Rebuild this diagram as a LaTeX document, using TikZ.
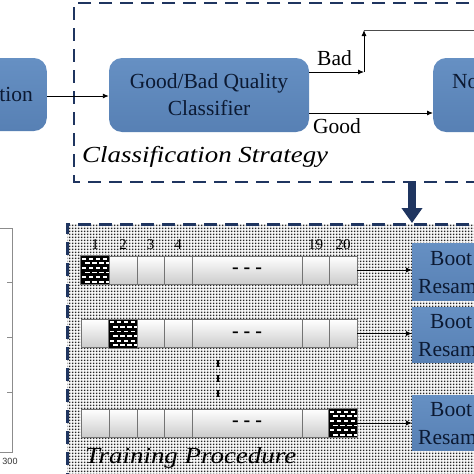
\documentclass[tikz,border=0pt]{standalone}
\usepackage{fontspec}
\setmainfont{Liberation Serif}
\newfontfamily\widefont[FakeStretch=1.17]{Liberation Serif}
\newfontfamily\plotfont{Liberation Sans}
\usetikzlibrary{patterns,arrows.meta,calc}
\definecolor{navy}{HTML}{1F3560}
\definecolor{boxtop}{HTML}{6690C3}
\definecolor{boxbot}{HTML}{5780B4}
\definecolor{ink}{HTML}{0C1A33}
\pgfdeclarepatternformonly{densedots}{\pgfqpoint{-1pt}{-1pt}}{\pgfqpoint{2pt}{2pt}}{\pgfqpoint{3pt}{3pt}}{\pgfpathrectangle{\pgfqpoint{0pt}{0pt}}{\pgfqpoint{2pt}{2pt}}\pgfusepath{fill}}
\tikzset{
 bluebox/.style={rectangle, rounded corners=13, top color=boxtop, bottom color=boxbot, draw=none, text=ink, font=\fontsize{21.5}{27}\selectfont, inner sep=0},
 bootbox/.style={rectangle, top color=boxtop, bottom color=boxbot, draw=none, inner sep=0},
 boxtext/.style={text=ink, font=\fontsize{21.5}{27}\selectfont, inner sep=0},
 lbl/.style={text=black, font=\fontsize{21.5}{27}\selectfont, inner sep=0},
 titletext/.style={text=black, font=\widefont\itshape\fontsize{23}{27}\selectfont, inner sep=0},
 num/.style={text=black, font=\fontsize{15}{17}\selectfont, inner sep=0},
 dashtext/.style={text=black, font=\bfseries\fontsize{20}{24}\selectfont, inner sep=0},
 plotlabel/.style={text=black!80, font=\plotfont\fontsize{9}{10}\selectfont, inner sep=0},
 cellbox/.style={rectangle, draw=black!55, line width=0.8, top color=white, bottom color=black!20, inner sep=0, minimum height=28},
 conn/.style={line width=0.9, draw=black, -{Latex[length=6,width=5]}},
 dashbox/.style={draw=navy, line width=2.8, dash pattern=on 13 off 8},
 axisline/.style={draw=black!45, line width=0.8},
}
\newcommand{\dashfill}[1]{%
 \fill[black] (#1.north west) rectangle (#1.south east);
 \begin{scope}
 \clip (#1.north west) rectangle (#1.south east);
 \foreach \r in {0,...,5}{
   \foreach \c in {0,...,4}{
     \fill[white] ($(#1.north west)+({\c*7+mod(\r,2)*3.5+1},{\r*4.6+2.2})$) rectangle ++(4.5,1.8);
 }}
 \end{scope}
 \draw[black!55, line width=0.8] (#1.north west) rectangle (#1.south east);}
\begin{document}
\begin{tikzpicture}[x=1pt,y=-1pt]
\useasboundingbox (0,0) rectangle (474,474);
\clip (0,0) rectangle (474,474);
\fill[white] (0,0) rectangle (474,474);

% left plot fragment
\draw[axisline] (0,228) -- (12,228) -- (12,452) -- (0,452);
\foreach \t in {282,337,392} \draw[axisline] (7,\t) -- (12,\t);
\node[plotlabel] (ticklabel) at (10,461) {300};

% training procedure box
\fill[pattern=densedots, pattern color=black!85] (67,224) rectangle (490,490);
\draw[dashbox, line width=3] (490,224) -- (67,224) -- (67,490);

% classification strategy box
\draw[dashbox] (490,3) -- (74,3) -- (74,182) -- (490,182);

% top row nodes
\node[bluebox, anchor=east, minimum width=80, minimum height=73, text width=52, align=right, inner xsep=14] (prev) at (47,94.5) {tion};
\node[bluebox, minimum width=200, minimum height=74, align=center] (cls) at (209,95) {Good/Bad Quality\\Classifier};
\node[bluebox, anchor=west, minimum width=130, minimum height=74] (nextbox) at (433,95) {};
\node[boxtext, anchor=base west] (nolabel) at (452,88) {No};

\draw[conn] (prev.east |- 0,96) -- (cls.west |- 0,96);
\coordinate (badturn) at (364,72);
\coordinate (badtop) at (364,30);
\coordinate (badend) at (480,30);
\draw[conn] (cls.east |- badturn) -- (badturn);
\draw[conn] (badturn) -- (badtop);
\draw[line width=0.9, black!70] (badtop) -- (badend);
\draw[conn] (cls.east |- 0,113) -- (nextbox.west |- 0,113);
\node[lbl] (badlbl) at (334.5,58) {Bad};
\node[lbl] (goodlbl) at (337,126) {Good};

\node[titletext, anchor=base west] (cstitle) at (82,162) {Classification Strategy};

% down arrow
\coordinate (dtop) at (412,183);
\coordinate (dbot) at (412,223);
\draw[navy, line width=8, -{Triangle[length=15,width=20]}] (dtop) -- (dbot);

% cell rows
\foreach \row/\yy in {1/270, 2/333.5, 3/423}{
  \foreach \i/\xa/\xb in {1/81/109, 2/109/137, 3/137/164, 4/164/192, 5/192/302, 6/302/329, 7/329/357}{
    \node[cellbox, minimum width={\xb-\xa}] (r\row-\i) at ({(\xa+\xb)/2},\yy) {};
  }
  \node[dashtext] (dots\row) at ([yshift=-1]r\row-5) {- - -};
}
\dashfill{r1-1}
\dashfill{r2-2}
\dashfill{r3-7}

% column numbers
\foreach \i/\lab in {1/1, 2/2, 3/3, 4/4, 6/19, 7/20}{
  \node[num, anchor=base] (n\i) at (r1-\i.center |- 0,249) {\lab};
}

% vertical dashed ellipsis
\coordinate (vtop) at (218,360);
\coordinate (vbot) at (218,398);
\draw[black, line width=1.3, dash pattern=on 7 off 8] (vtop) -- (vbot);

% bootstrap boxes
\foreach \k/\cy/\hh in {1/271.5/57, 2/334.5/55, 3/422.5/55}{
  \node[bootbox, anchor=west, minimum width=130, minimum height=\hh] (boot\k) at (412,\cy) {};
  \node[boxtext, anchor=base west] (boottxt\k) at (430,\cy-6.5) {Boot};
  \node[boxtext, anchor=base west] (resamtxt\k) at (418,\cy+21.5) {Resam};
  \draw[conn] (r\k-7.east) -- (boot\k.west |- r\k-7.east);
}

\node[titletext, anchor=base west] (tptitle) at (85,463) {Training Procedure};
\end{tikzpicture}
\end{document}
